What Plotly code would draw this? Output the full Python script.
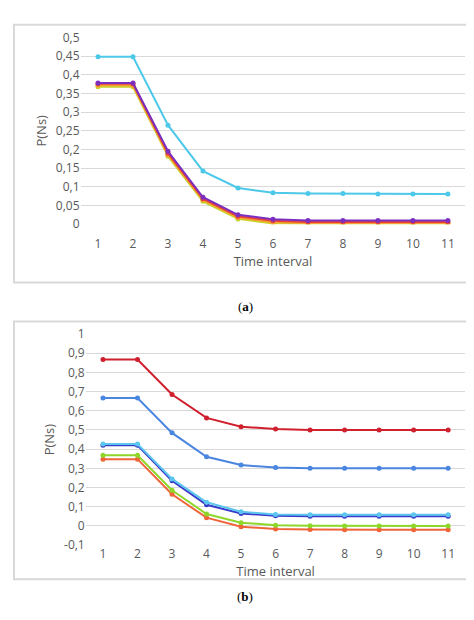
import plotly.graph_objects as go

x = list(range(1, 12))

# ==== Panel (a) ====
a_cyan = [0.448, 0.448, 0.265, 0.142, 0.097, 0.084, 0.082, 0.082, 0.081, 0.081, 0.081]
a_purple = [0.378, 0.378, 0.195, 0.072, 0.025, 0.013, 0.010, 0.010, 0.010, 0.010, 0.010]
a_red = [0.376, 0.376, 0.190, 0.068, 0.021, 0.009, 0.006, 0.006, 0.006, 0.006, 0.006]
a_orange = [0.372, 0.372, 0.186, 0.065, 0.018, 0.005, 0.003, 0.003, 0.003, 0.003, 0.003]
a_yellow = [0.368, 0.368, 0.182, 0.061, 0.014, 0.002, 0.000, 0.000, 0.000, 0.000, 0.000]

# ==== Panel (b) ====
b_red = [0.867, 0.867, 0.685, 0.563, 0.517, 0.505, 0.500, 0.500, 0.500, 0.500, 0.500]
b_blue = [0.667, 0.667, 0.485, 0.360, 0.317, 0.304, 0.301, 0.300, 0.300, 0.300, 0.300]
b_cyan = [0.427, 0.427, 0.245, 0.123, 0.074, 0.060, 0.058, 0.058, 0.058, 0.058, 0.058]
b_navy = [0.420, 0.420, 0.235, 0.110, 0.065, 0.053, 0.050, 0.050, 0.050, 0.050, 0.050]
b_green = [0.368, 0.368, 0.186, 0.062, 0.017, 0.004, 0.001, 0.000, 0.000, 0.000, 0.000]
b_orange = [0.348, 0.348, 0.165, 0.043, -0.004, -0.016, -0.018, -0.020, -0.020, -0.020, -0.020]

a_series = [(a_yellow, "#c8d42a"), (a_orange, "#f5a030"), (a_red, "#e8403a"),
            (a_purple, "#7b2fbf"), (a_cyan, "#4cc8e8")]
b_series = [(b_orange, "#f0643a"), (b_green, "#8ed62a"), (b_navy, "#3a3acb"),
            (b_cyan, "#5cc6ee"), (b_blue, "#4a86e0"), (b_red, "#d0202e")]

fig = go.Figure()
for ys, c in a_series:
    fig.add_trace(go.Scatter(x=x, y=ys, mode="lines+markers", line=dict(color=c, width=2),
                             marker=dict(size=5, color=c), xaxis="x", yaxis="y"))
for ys, c in b_series:
    fig.add_trace(go.Scatter(x=x, y=ys, mode="lines+markers", line=dict(color=c, width=2),
                             marker=dict(size=5, color=c), xaxis="x2", yaxis="y2"))

tick_font = dict(family="Open Sans", size=12, color="#595959")
title_font = dict(family="Open Sans", size=13, color="#595959")
grid = "#d9d9d9"

# comma decimal tick labels
a_ticks = [i * 0.05 for i in range(11)]
a_text = ["0", "0,05", "0,1", "0,15", "0,2", "0,25", "0,3", "0,35", "0,4", "0,45", "0,5"]
b_ticks = [i / 10 - 0.1 for i in range(12)]
b_text = ["-0,1", "0", "0,1", "0,2", "0,3", "0,4", "0,5", "0,6", "0,7", "0,8", "0,9", "1"]

fig.update_layout(
    width=474, height=620, margin=dict(l=0, r=0, t=0, b=0),
    paper_bgcolor="white", plot_bgcolor="white", showlegend=False,
    xaxis=dict(domain=[0.153, 0.965], anchor="y", range=[0.5, 11.5], tickvals=x,
               showgrid=False, zeroline=False, tickfont=tick_font, ticks="outside",
               ticklen=8, tickcolor="rgba(0,0,0,0)",
               title=dict(text="Time interval", font=title_font, standoff=4)),
    yaxis=dict(domain=[0.6565, 0.9661], anchor="x", range=[0, 0.5], tickvals=a_ticks,
               ticktext=a_text, gridcolor=grid, zeroline=False, tickfont=tick_font,
               title=dict(text="P(Ns)", font=title_font, standoff=6)),
    xaxis2=dict(domain=[0.164, 0.965], anchor="y2", range=[0.5, 11.5], tickvals=x,
                showgrid=False, zeroline=False, tickfont=tick_font, ticks="",
                title=dict(text="Time interval", font=title_font, standoff=2)),
    yaxis2=dict(domain=[0.1242, 0.4742], anchor="x2", range=[-0.1, 1], tickvals=b_ticks,
                ticktext=b_text, gridcolor=grid, zeroline=False, tickfont=tick_font,
                title=dict(text="P(Ns)", font=title_font, standoff=6)),
    shapes=[
        dict(type="rect", xref="paper", yref="paper", x0=6/474, x1=468/474,
             y0=1-273/620, y1=1-8/620, line=dict(color="#d9d9d9", width=2)),
        dict(type="rect", xref="paper", yref="paper", x0=6/474, x1=468/474,
             y0=1-578/620, y1=1-313/620, line=dict(color="#d9d9d9", width=2)),
    ],
    annotations=[
        dict(text="(<b>a</b>)", x=0.5, y=1-298/620, xref="paper", yref="paper",
             showarrow=False, font=dict(family="Liberation Serif", size=13, color="black")),
        dict(text="(<b>b</b>)", x=0.5, y=1-606/620, xref="paper", yref="paper",
             showarrow=False, font=dict(family="Liberation Serif", size=13, color="black")),
    ],
)

fig.write_html("out.html")
